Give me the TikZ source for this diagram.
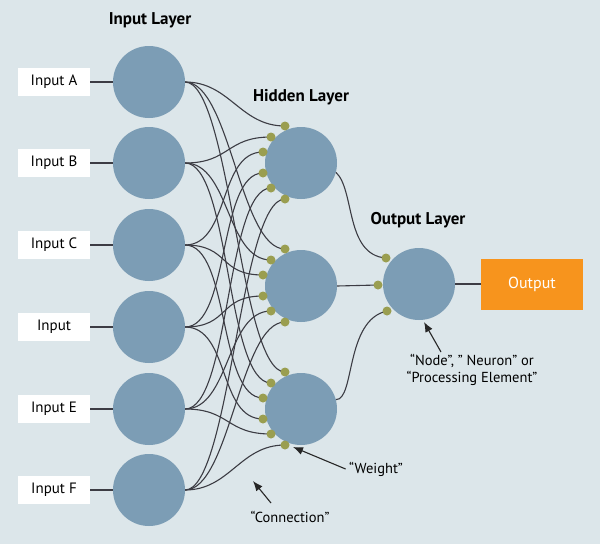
\documentclass[tikz,border=0pt]{standalone}
\usepackage{fontspec}
\setmainfont{PT Sans}
\usetikzlibrary{arrows.meta,calc}
\definecolor{bg}{HTML}{DCE6EA}
\definecolor{nfill}{HTML}{7C9DB5}
\definecolor{dotc}{HTML}{9A9E50}
\definecolor{linec}{HTML}{3C3C44}
\definecolor{outc}{HTML}{F7941D}
\begin{document}
\begin{tikzpicture}[x=1pt,y=-1pt,
  neuron/.style={circle,fill=nfill,minimum size=72pt,inner sep=0pt},
  inbox/.style={fill=white,minimum width=72pt,minimum height=28pt,inner sep=0pt,font=\fontsize{15}{16}\selectfont},
  wdot/.style={circle,fill=dotc,minimum size=9pt,inner sep=0pt},
  conn/.style={draw=linec,line width=1.1pt},
  title/.style={font=\bfseries\fontsize{17}{18}\selectfont},
  note/.style={font=\fontsize{14.5}{17}\selectfont,align=center},
  arr/.style={draw=black!85,line width=1.1pt,-{Latex[length=10pt,width=8pt]}}]
\fill[bg] (0,0) rectangle (600,544);
\useasboundingbox (0,0) rectangle (600,544);
\foreach \i/\y/\t in {1/82/Input A,2/163/Input B,3/245/Input C,4/327/Input,5/409/Input E,6/490/Input F}{
  \node[inbox] (b\i) at (54,\y) {\t};
  \coordinate (ie\i) at (185,\y);
  \draw[conn] (b\i.east) -- (113,\y);
}
\foreach \j/\y in {1/163,2/286,3/409}{
  \coordinate (hc\j) at (301,\y);
  \foreach \k/\dx/\dy in {1/-16/-37,2/-30/-26,3/-38/-11,4/-38/10,5/-30/25,6/-16/36}{
    \coordinate (d\j\k) at (301+\dx,\y+\dy);
  }
}
\foreach \i in {1,...,6}{
  \foreach \j in {1,2,3}{
    \draw[conn] (ie\i) .. controls ($(ie\i)+(45,0)$) and ($(d\j\i)+(-45,0)$) .. (d\j\i);
  }
}
\foreach \i/\y in {1/82,2/163,3/245,4/327,5/409,6/490}{ \node[neuron] (in\i) at (149,\y) {}; }
\foreach \j/\y in {1/163,2/286,3/409}{
  \node[neuron] (h\j) at (301,\y) {};
  \foreach \k in {1,...,6}{ \node[wdot] (w\j\k) at (d\j\k) {}; }
}
\node[neuron] (o) at (419,284) {};
\coordinate (od1) at (386,258);
\coordinate (od2) at (378,285);
\coordinate (od3) at (387,311);
\draw[conn] (h1.-15) .. controls (355,190) and (345,255) .. (od1);
\draw[conn] (h2.east) -- (od2);
\draw[conn] (h3.15) .. controls (355,400) and (345,320) .. (od3);
\foreach \k in {1,2,3}{ \node[wdot] (ow\k) at (od\k) {}; }
\node[fill=outc,minimum width=102pt,minimum height=51pt,text=white,font=\fontsize{16}{17}\selectfont] (out) at (532,284) {Output};
\draw[conn] (o.east) -- (out.west);
\node[title] (t1) at (150,20) {Input Layer};
\node[title] (t2) at (301,97) {Hidden Layer};
\node[title] (t3) at (418,220) {Output Layer};
\node[note] (n1) at (472,370) {“Node”, ” Neuron” or\\“Processing Element”};
\coordinate (a1) at (441,352);
\draw[arr] (a1) -- (424,322);
\node[note] (n2) at (376,469) {“Weight”};
\draw[arr] (n2.west) -- (293,447);
\node[note] (n3) at (290,517) {“Connection”};
\coordinate (a3) at (271,503);
\draw[arr] (a3) -- (253,481);
\end{tikzpicture}
\end{document}
